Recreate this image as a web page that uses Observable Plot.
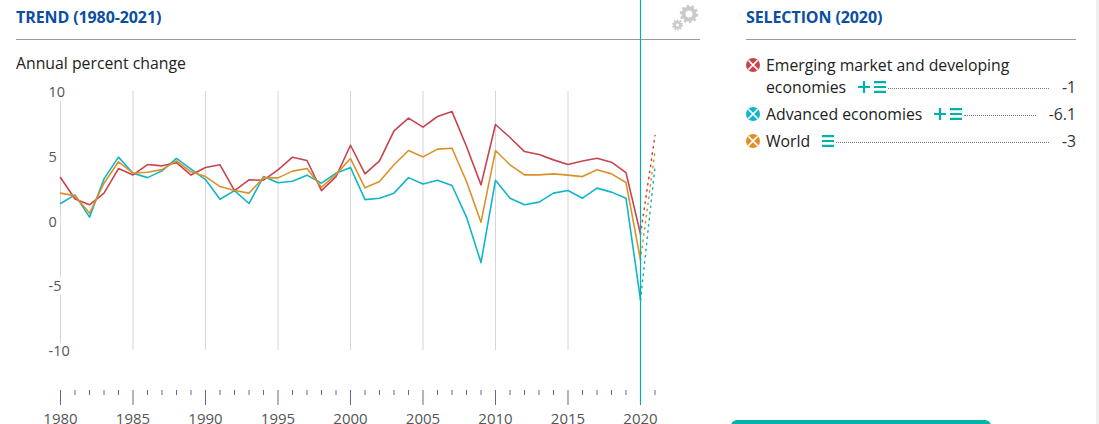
<!DOCTYPE html>
<html><head><meta charset="utf-8">
<script src="https://cdn.jsdelivr.net/npm/d3@7"></script>
<script src="https://cdn.jsdelivr.net/npm/@observablehq/plot@0.6"></script>
<style>
html,body{margin:0;padding:0;background:#fff;overflow:hidden}
body{width:1099px;height:424px;position:relative;font-family:"Open Sans",sans-serif;color:#222}
.abs{position:absolute}
#chart{position:absolute;left:0;top:0}
#chart svg{display:block;background:transparent}
.head{font-weight:700;font-size:16px;color:#0b4ea2;line-height:18px;letter-spacing:-.1px}
.rule{height:1px;background:#9a9a9a}
.row{position:absolute;left:746px;width:330px;height:20px;display:flex;align-items:center;font-size:15.8px;line-height:20px}
.row .dot{width:14px;height:14px;margin-right:6px;flex:none}
.row .lead{flex:1;border-top:1px dotted #777;margin:2px 0 0 2px}
.row .val{text-align:right;color:#333;flex:none}
.ind{display:inline-block;flex:none;height:12px}
</style></head><body>
<div class="abs rule" style="left:16px;top:39px;width:684px"></div>
<div class="abs rule" style="left:746px;top:39px;width:330px"></div>
<div class="abs head" style="left:16px;top:8px">TREND (1980-2021)</div>
<div class="abs head" style="left:746px;top:8px">SELECTION (2020)</div>
<div class="abs" style="left:16px;top:53px;font-size:15.8px;line-height:20px">Annual percent change</div>
<svg class="abs" style="left:668px;top:0" width="34" height="32" viewBox="0 0 34 32">
<g fill="none" stroke="#cacaca">
<circle cx="21" cy="14" r="5.5" stroke-width="4"/><circle cx="21" cy="14" r="8" stroke-width="2.5" stroke-dasharray="2.6 2.4"/>
<circle cx="9.5" cy="25" r="2.8" stroke-width="2.6"/><circle cx="9.5" cy="25" r="4.6" stroke-width="1.8" stroke-dasharray="1.7 1.2"/>
</g></svg>
<div id="chart"></div>
<div id="legend"></div>
<div class="abs" style="left:731px;top:420px;width:260px;height:14px;background:#00b2a9;border-radius:6px"></div>
<div class="abs" style="left:1096px;top:0;width:3px;height:424px;background:#efefef"></div>
<script>
const years = d3.range(1980, 2021);
const emerging = [3.36,1.7,1.25,2.15,4.05,3.56,4.36,4.26,4.5,3.55,4.13,4.34,2.35,3.18,3.15,3.95,4.93,4.67,2.35,3.43,5.85,3.64,4.64,6.96,7.94,7.25,8.07,8.45,5.75,2.79,7.45,6.45,5.36,5.13,4.72,4.36,4.64,4.85,4.54,3.74,-1];
const advanced = [1.35,2.02,0.3,3.25,4.93,3.69,3.35,3.87,4.83,4.0,3.2,1.68,2.35,1.35,3.43,2.95,3.07,3.54,2.92,3.69,4.13,1.65,1.76,2.15,3.35,2.85,3.15,2.74,0.3,-3.21,3.15,1.76,1.25,1.46,2.15,2.35,1.76,2.54,2.23,1.76,-6.1];
const world = [2.15,1.94,0.6,2.92,4.57,3.69,3.77,3.97,4.64,3.8,3.43,2.66,2.35,2.15,3.35,3.33,3.85,4.05,2.61,3.6,4.82,2.56,3.05,4.34,5.44,4.95,5.55,5.62,3.05,-0.09,5.44,4.34,3.56,3.56,3.64,3.54,3.43,3.95,3.64,2.97,-3];
const forecastYear = 2021;
const forecast = {emerging: 6.6, advanced: 4.2, world: 5.4};
const selectedYear = 2020;
const yTicks = [10,5,0,-5,-10];
const majorYears = [1980,1985,1990,1995,2000,2005,2010,2015,2020];
const minorYears = d3.range(1980,2022).filter(y => y % 5 !== 0);
const colors = {red:"#c8444c", cyan:"#10b5cb", orange:"#dc9128", teal:"#00b2a9", tick:"#6b6394"};
const table = a => a.map((v,i) => ({year: years[i], value: v}));
const fc = (a,k) => [{year: selectedYear, value: a[a.length-1]},{year: forecastYear, value: forecast[k]}];
const lineOpts = c => ({x:"year", y:"value", stroke:c, strokeWidth:1.6});
const dotOpts = c => ({x:"year", y:"value", stroke:c, strokeWidth:1.5, strokeDasharray:"1.4,4.8"});
const chart = Plot.plot({
  width:720, height:424, marginTop:0, marginBottom:34, marginLeft:0, marginRight:0,
  style:{fontFamily:"'Open Sans',sans-serif", background:"transparent"},
  x:{domain:[1980,2021], range:[60,654.5], axis:null},
  y:{domain:[10,-10], range:[91,350], axis:null},
  marks:[
    Plot.ruleX(majorYears.filter(y=>y!==selectedYear), {y1:10, y2:-10, stroke:"#d6d6d6", strokeWidth:1}),
    Plot.text(yTicks, {x:()=>1980, y:d=>d, text:d=>String(d), dx:-12, dy:1, textAnchor:"start", fill:"#555", stroke:"#fff", strokeWidth:8, fontSize:14.5}),
    Plot.line(fc(advanced,"advanced"), dotOpts(colors.cyan)),
    Plot.line(fc(world,"world"), dotOpts(colors.orange)),
    Plot.line(fc(emerging,"emerging"), dotOpts(colors.red)),
    Plot.line(table(advanced), lineOpts(colors.cyan)),
    Plot.line(table(emerging), lineOpts(colors.red)),
    Plot.line(table(world), lineOpts(colors.orange)),
    Plot.axisX({ticks:majorYears, tickSize:15, tickPadding:8, tickFormat:"d", label:null, stroke:colors.tick, fill:"#555", fontSize:15}),
    Plot.axisX({ticks:minorYears, tickSize:5, tickFormat:()=>"", label:null, stroke:colors.tick}),
    Plot.ruleX([selectedYear], {stroke:colors.teal, strokeWidth:1.2}),
    Plot.axisX({ticks:[selectedYear], tickSize:14, tickFormat:()=>"", label:null, stroke:colors.teal, strokeWidth:1.2})
  ]
});
document.getElementById("chart").append(chart);

const dot = c => `<svg class="dot" viewBox="0 0 14 14"><circle cx="7" cy="7" r="7" fill="${c}"/><path d="M2.4 2.4L11.6 11.6M11.6 2.4L2.4 11.6" stroke="#fff" stroke-width="1.5"/></svg>`;
const plus = `<svg class="ind" width="12" height="12" viewBox="0 0 12 12"><path d="M0 6H12M6 0V12" stroke="${colors.teal}" stroke-width="2.2"/></svg>`;
const bars = `<svg class="ind" width="12" height="12" viewBox="0 0 12 12" style="margin-left:4px"><path d="M0 1.2H12M0 6H12M0 10.8H12" stroke="${colors.teal}" stroke-width="2.2"/></svg>`;
const legend = document.getElementById("legend");
legend.innerHTML = `
<div class="row" style="top:55px">${dot(colors.red)}<span>Emerging market and developing</span></div>
<div class="row" style="top:77px"><span style="margin-left:20px">economies</span><span style="width:12px"></span>${plus}${bars}<span class="lead"></span><span class="val" style="margin-left:13px">-1</span></div>
<div class="row" style="top:104px">${dot(colors.cyan)}<span>Advanced economies</span><span style="width:12px"></span>${plus}${bars}<span class="lead"></span><span class="val" style="margin-left:13px">-6.1</span></div>
<div class="row" style="top:131px">${dot(colors.orange)}<span>World</span><span style="width:12px"></span><svg class="ind" width="12" height="12" viewBox="0 0 12 12"><path d="M0 1.2H12M0 6H12M0 10.8H12" stroke="${colors.teal}" stroke-width="2.2"/></svg><span class="lead"></span><span class="val" style="margin-left:13px">-3</span></div>`;
</script>
</body></html>
